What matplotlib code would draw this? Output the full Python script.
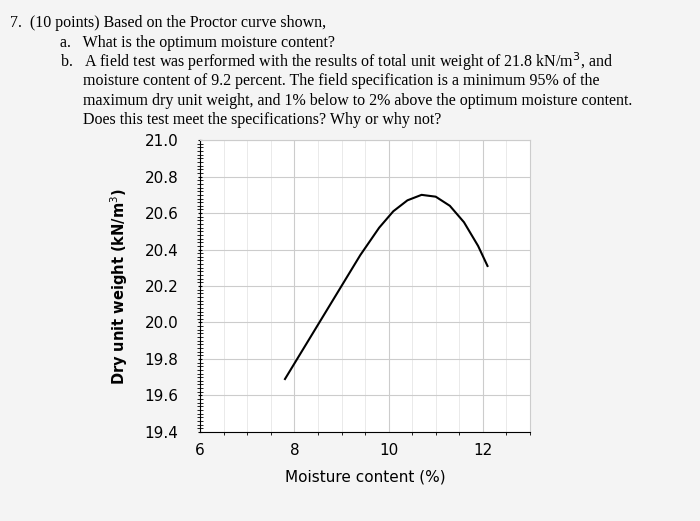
import matplotlib
matplotlib.use("Agg")
import matplotlib.pyplot as plt
from matplotlib.ticker import MultipleLocator

moisture = [7.8, 8.2, 8.6, 9.0, 9.4, 9.8, 10.1, 10.4, 10.7, 11.0, 11.3, 11.6, 11.9, 12.1]
dry_unit = [19.69, 19.86, 20.03, 20.20, 20.37, 20.52, 20.61, 20.67, 20.70, 20.69, 20.64, 20.55, 20.42, 20.31]
xticks = [6, 8, 10, 12]
yticks = [19.4, 19.6, 19.8, 20.0, 20.2, 20.4, 20.6, 20.8, 21.0]

fig = plt.figure(figsize=(7, 5.21), dpi=100)
fig.patch.set_facecolor("#f4f4f4")
serif = "Liberation Serif"
lines = [
    (0.015, 0.955, "7.  (10 points) Based on the Proctor curve shown,"),
    (0.085, 0.918, "a.   What is the optimum moisture content?"),
    (0.085, 0.881, "b.   A field test was performed with the results of total unit weight of 21.8 kN/m$^3$, and"),
    (0.118, 0.844, "moisture content of 9.2 percent. The field specification is a minimum 95% of the"),
    (0.118, 0.807, "maximum dry unit weight, and 1% below to 2% above the optimum moisture content."),
    (0.118, 0.770, "Does this test meet the specifications? Why or why not?"),
]
for x, y, t in lines:
    fig.text(x, y, t, family=serif, fontsize=11.5, ha="left", va="center")

ax = fig.add_axes([0.286, 0.171, 0.471, 0.56])
ax.plot(moisture, dry_unit, color="black", lw=1.5, solid_joinstyle="round")
ax.set_xlim(6, 13)
ax.set_ylim(19.4, 21.0)
ax.set_xticks(xticks)
ax.set_yticks(yticks)
ax.set_yticklabels([f"{v:.1f}" for v in yticks])
ax.xaxis.set_minor_locator(MultipleLocator(0.5))
ax.yaxis.set_minor_locator(MultipleLocator(0.02))
ax.grid(True, which="major", color="#cccccc", lw=0.8)
ax.grid(True, which="minor", axis="x", color="#e6e6e6", lw=0.6)
for s in ["top", "right"]:
    ax.spines[s].set_color("#cccccc")
ax.tick_params(axis="y", which="both", direction="inout", labelsize=11, pad=14)
ax.tick_params(axis="y", which="minor", length=4)
ax.tick_params(axis="x", labelsize=11, length=0, pad=8)
ax.set_xlabel("Moisture content (%)", fontsize=11, labelpad=8)
ax.set_ylabel("Dry unit weight (kN/m$^3$)", fontsize=10.5, fontweight="bold", labelpad=10)
fig.savefig("out.png", dpi=100, facecolor=fig.get_facecolor())
